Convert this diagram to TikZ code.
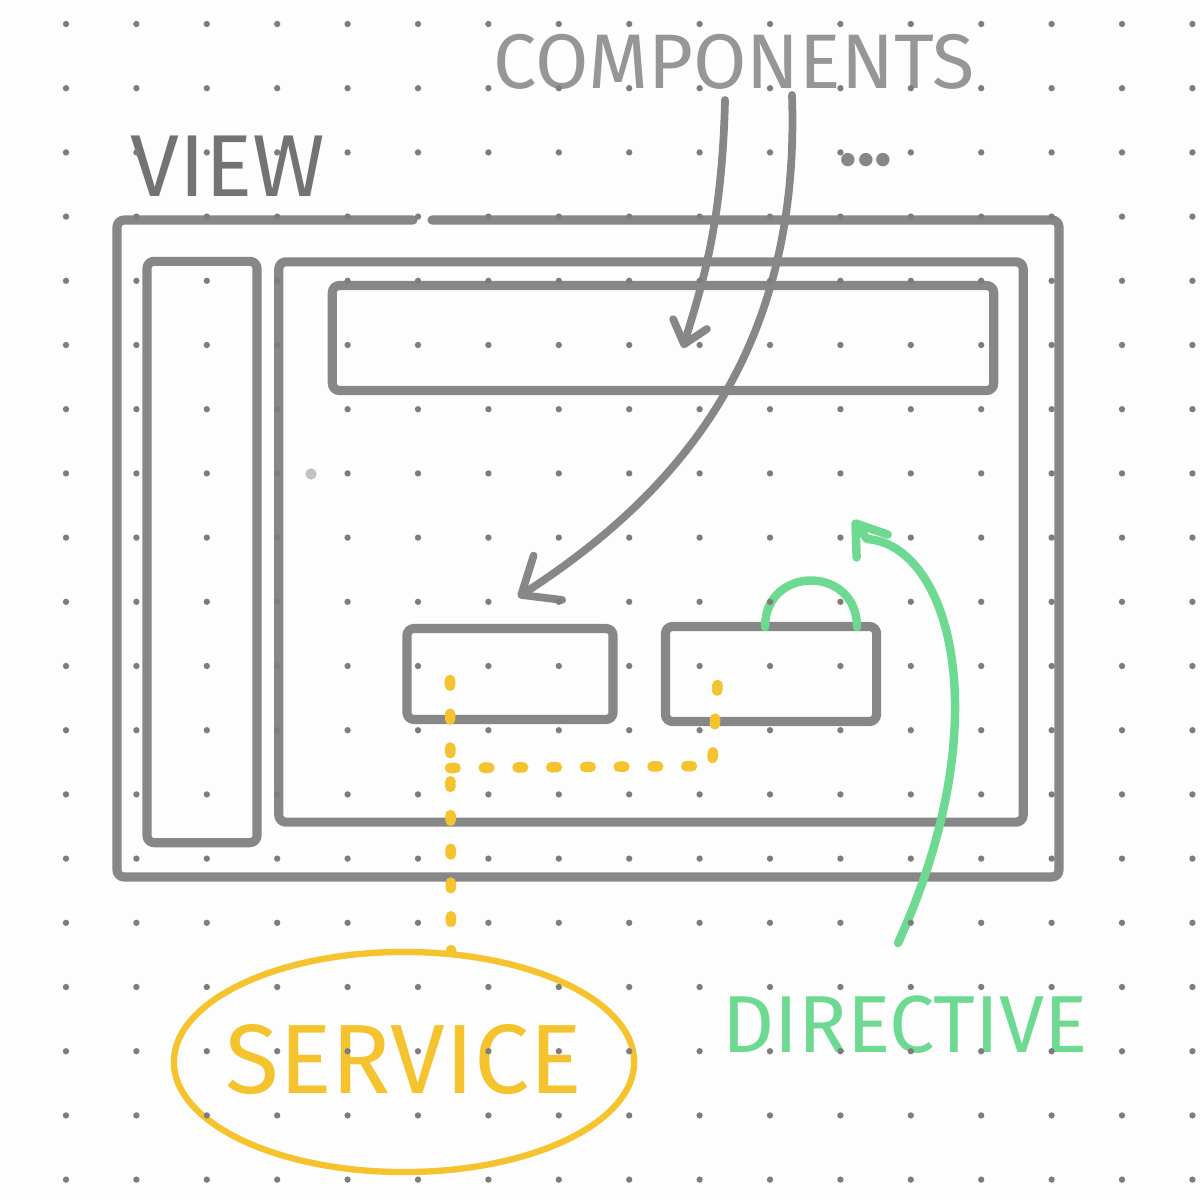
\documentclass[tikz,border=0pt]{standalone}
\usepackage{fontspec}
\setmainfont{Fira Sans}
\usetikzlibrary{arrows.meta,shapes.geometric}

\definecolor{paper}{RGB}{253,253,253}
\definecolor{pencil}{RGB}{135,135,135}
\definecolor{softpencil}{RGB}{150,150,150}
\definecolor{dotgray}{RGB}{125,125,125}
\definecolor{svcyellow}{RGB}{245,195,45}
\definecolor{dirgreen}{RGB}{110,218,145}

\tikzset{
  box/.style={draw=pencil, line width=2.6pt, rounded corners=2pt, inner sep=0pt},
  pointer/.style={draw=pencil, line width=2.2pt, -{Straight Barb[round]}},
  trail/.style={draw=svcyellow, line width=3pt, dash pattern=on 1.6pt off 8pt},
  hand/.style={inner sep=0pt}
}

\begin{document}
\begin{tikzpicture}[x=0.01cm, y=-0.01cm, line cap=round, line join=round]
    % Paper
    \useasboundingbox (0,0) rectangle (1200,1200);
    \fill[paper] (0,0) rectangle (1200,1200);

    % View frame, open at the top
    \draw[box] (432,220) -- (1059,220) -- (1059,877) -- (117,877) -- (117,220) -- (413,220);

    % Panels inside the view
    \node[box, minimum width=1.10cm, minimum height=5.81cm] (side) at (202,552) {};
    \node[box, minimum width=7.44cm, minimum height=5.60cm] (main) at (651,542) {};
    \node[box, minimum width=6.61cm, minimum height=1.05cm] (topbar) at (663,338) {};
    \node[box, minimum width=2.06cm, minimum height=0.91cm] (boxa) at (510,674) {};
    \node[box, minimum width=2.11cm, minimum height=0.95cm] (boxb) at (771,674) {};

    % Labels
    \node[hand, text=pencil!85!black, font=\fontsize{25}{25}\selectfont] (view) at (228,166) {VIEW};
    \node[hand, text=softpencil, font=\fontsize{22}{22}\selectfont] (components) at (734,62) {COMPONENTS};
    \node[hand, text=pencil, font=\fontsize{21}{21}\selectfont\bfseries] (more) at (866,160) {...};
    \node[draw=svcyellow, line width=1.8pt, ellipse, minimum width=4.6cm, minimum height=2.2cm, inner sep=0pt] (serviceoval) at (404,1062) {};
    \node[hand, text=svcyellow, font=\fontsize{28}{28}\selectfont] (service) at (404,1060) {SERVICE};
    \node[hand, text=dirgreen, font=\fontsize{23}{23}\selectfont] (directive) at (905,1025) {DIRECTIVE};

    % Arrows from the components label
    \coordinate (c1) at (725,100);
    \coordinate (c2) at (792,95);
    \coordinate (t1) at (683,348);
    \coordinate (t2) at (518,597);
    \draw[pointer, -{Straight Barb[round, length=6pt, width=10pt]}] (c1) .. controls (722,230) and (700,290) .. (t1);
    \draw[pointer, -{Straight Barb[round, length=9pt, width=15pt]}] (c2) .. controls (800,330) and (700,480) .. (t2);

    % Service links (dashed)
    \coordinate (sa) at (450,680);
    \coordinate (sj) at (450,768);
    \coordinate (sb) at (718,678);
    \draw[trail] (sa) -- (serviceoval.67);
    \draw[trail] (sj) -- (712,766) -- (sb);

    % Directive loop and arrow
    \coordinate (d0) at (898,943);
    \coordinate (d1) at (867,539);
    \coordinate (dt) at (853,520);
    \draw[draw=dirgreen, line width=2.4pt] (765,627) .. controls (765,565) and (857,565) .. (857,627);
    \draw[draw=dirgreen, line width=2.4pt, -{Straight Barb[round, length=8pt, width=11pt]}] (d0) .. controls (1000,720) and (950,545) .. (d1) -- (dt);

    % Dot grid and stray dot
    \fill[pencil!50] (311,474) circle (1.6pt);
    \foreach \i in {0,...,16}
      \foreach \j in {0,...,18}
        \fill[dotgray] (66+70.4*\i, 24+64.2*\j) circle (0.9pt);

\end{tikzpicture}
\end{document}
